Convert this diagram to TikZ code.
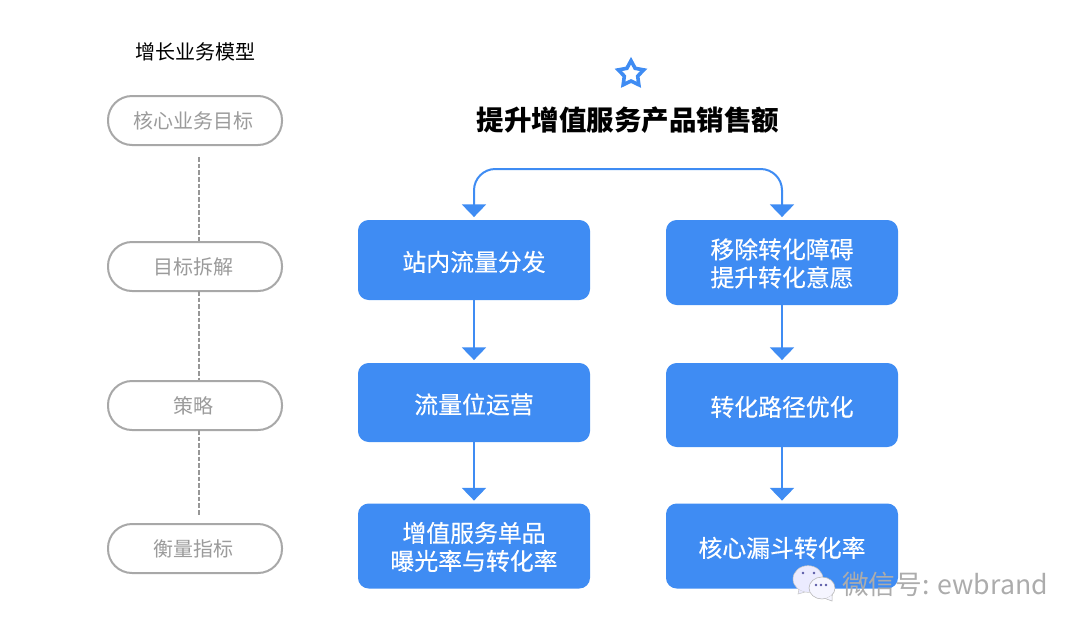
\documentclass[tikz,border=0pt]{standalone}
\usepackage{fontspec}
\setmainfont{Noto Sans CJK SC}
\newfontfamily\boxfont[FakeBold=0.35]{Noto Sans CJK SC}
\usetikzlibrary{shapes.geometric,positioning,arrows.meta}
\definecolor{flowblue}{HTML}{3F8CF3}
\definecolor{pillgray}{HTML}{A8A8A8}
\definecolor{pilltext}{HTML}{9B9B9B}

\begin{document}
\begin{tikzpicture}[
    x=0.75pt, y=-0.75pt,
    pill/.style={rectangle, draw=pillgray, line width=1.5pt, rounded corners=18pt, fill=white, minimum width=130.5pt, minimum height=36.75pt, inner sep=0pt, text=pilltext, font=\fontsize{15}{18}\selectfont},
    box/.style={rectangle, fill=flowblue, rounded corners=8pt, minimum width=174pt, inner sep=0pt, align=center, text=white, text height=18pt, font=\boxfont\fontsize{17.9}{21}\selectfont},
    boxtwo/.style={box, text height=37.5pt},
    dashline/.style={pillgray!90!black, line width=1pt, dash pattern=on 3.5pt off 1.5pt},
    arrow/.style={-{Triangle[width=18pt, length=9.5pt]}, flowblue, line width=1.5pt, shorten >=2pt},
    bubble/.style={ellipse, draw=gray!45, line width=0.4pt, inner sep=0pt},
]
\useasboundingbox (0,0) rectangle (1080,632);

% ====== Left column ======
\node[font=\fontsize{15}{18}\selectfont] (model) at (195,52) {增长业务模型};
\node[pill] (goal) at (195,120.5) {\hspace{-3pt}核心业务目标};
\node[pill] (split) at (195,266.5) {\hspace{-3pt}目标拆解};
\node[pill] (plan) at (195,405.5) {\hspace{-3pt}策略};
\node[pill] (metric) at (195,548.5) {\hspace{-3pt}衡量指标};

\coordinate (dashA) at (199,157);
\coordinate (dashB) at (199,291);
\coordinate (dashC) at (199,430);
\coordinate (dashD) at (199,515);
\draw[dashline] (dashA) -- (dashA |- split.north);
\draw[dashline] (dashB) -- (dashB |- plan.north);
\draw[dashline] (dashC) -- (dashD);

% ====== Goal ======
\node[star, star points=5, star point ratio=1.9, draw=flowblue, line width=2.7pt, minimum size=20pt, inner sep=0pt] (goalstar) at (631,74) {};
\node[font=\fontsize{20.6}{24}\selectfont\bfseries] (title) at (628,120) {提升增值服务产品销售额};

% ====== Left branch ======
\node[box, minimum height=60pt] (flow) at (474,260) {站内流量分发};
\node[box, minimum height=59.25pt] (slot) at (474,402.5) {流量位运营};
\node[boxtwo, minimum height=63.75pt] (expose) at (474,546) {增值服务单品\\曝光率与转化率};

% ====== Right branch ======
\node[boxtwo, minimum height=63.75pt] (barrier) at (782,262.5) {移除转化障碍\\提升转化意愿};
\node[box, minimum height=63pt] (path) at (782,405) {转化路径优化};
\node[box, minimum height=63.75pt] (funnel) at (782,546) {核心漏斗转化率};

% ====== Arrows ======
\coordinate (fork) at (628,169);
\draw[arrow, rounded corners=16pt] (fork) -| (flow.north);
\draw[arrow, rounded corners=16pt] (fork) -| (barrier.north);
\draw[arrow] (flow) -- (slot);
\draw[arrow] (slot) -- (expose);
\draw[arrow] (barrier) -- (path);
\draw[arrow] (path) -- (funnel);

% ====== Watermark ======
\node[bubble, fill=blue!8, minimum width=22.5pt, minimum height=20pt] (bubbleA) at (808,579) {};
\draw[gray!45, fill=blue!8, line width=0.4pt] (bubbleA.-130) -- (798,594) -- (bubbleA.-105);
\node[bubble, draw=gray!60, fill=blue!4, minimum width=19.5pt, minimum height=16.5pt] (bubbleB) at (822,588) {};
\draw[gray!60, fill=blue!4, line width=0.4pt] (bubbleB.-70) -- (832,601) -- (bubbleB.-35);
\foreach \ex/\ey in {803/573, 814/573, 816/585, 821/585, 826/585}
    \fill[blue!30!gray] (\ex,\ey) circle (1pt);
\node[anchor=west, text=gray!65, font=\fontsize{20}{24}\selectfont, inner sep=0pt] (mark) at (842,584) {微信号: ewbrand};

\end{tikzpicture}
\end{document}
